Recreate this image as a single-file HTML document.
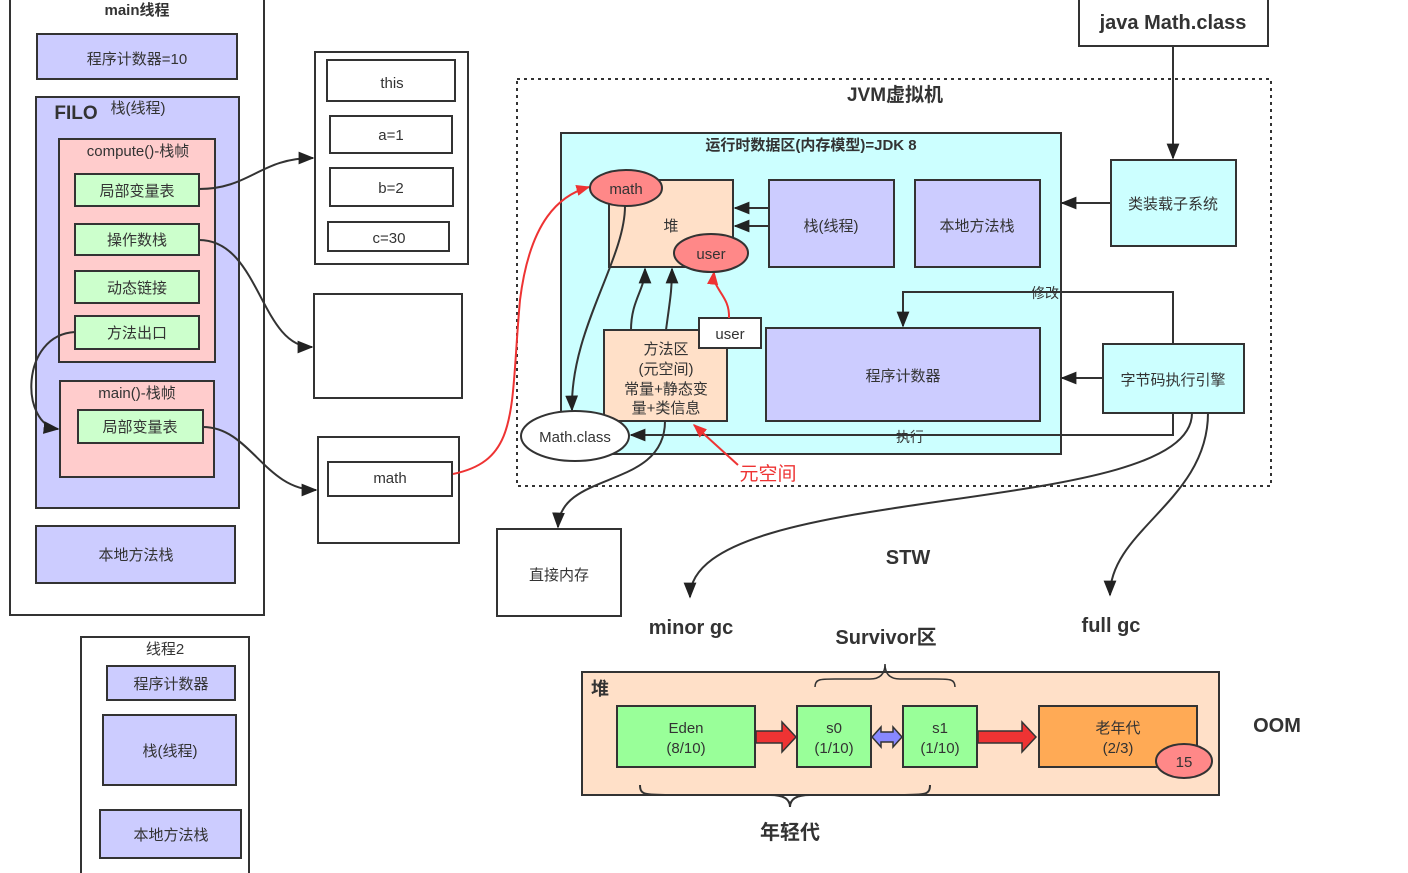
<!DOCTYPE html>
<html><head><meta charset="utf-8"><style>
html,body{margin:0;padding:0;background:#fff;}
svg{display:block;font-family:"Liberation Sans","Noto Sans CJK SC",sans-serif;}
text{fill:#333;}
</style></head><body>
<svg width="1408" height="873" viewBox="0 0 1408 873" xmlns="http://www.w3.org/2000/svg">
<defs>
<marker id="ab" viewBox="0 0 10 10" refX="9" refY="5" markerWidth="16" markerHeight="16" orient="auto" markerUnits="userSpaceOnUse"><path d="M0,1L10,5L0,9z" fill="#222"/></marker>
<marker id="r" viewBox="0 0 10 10" refX="9" refY="5" markerWidth="14" markerHeight="14" orient="auto" markerUnits="userSpaceOnUse"><path d="M0,1L10,5L0,9z" fill="#e33"/></marker>
</defs>
<g stroke="#333" stroke-width="2">
<rect x="10" y="-2" width="254" height="617" fill="#fff"/>
<rect x="37" y="34" width="200" height="45" fill="#ccf"/>
<rect x="36" y="97" width="203" height="411" fill="#ccf"/>
<rect x="59" y="139" width="156" height="223" fill="#fcc"/>
<rect x="75" y="174" width="124" height="32" fill="#cfc"/>
<rect x="75" y="224" width="124" height="31" fill="#cfc"/>
<rect x="75" y="271" width="124" height="32" fill="#cfc"/>
<rect x="75" y="316" width="124" height="33" fill="#cfc"/>
<rect x="60" y="381" width="154" height="96" fill="#fcc"/>
<rect x="78" y="410" width="125" height="33" fill="#cfc"/>
<rect x="36" y="526" width="199" height="57" fill="#ccf"/>
<rect x="315" y="52" width="153" height="212" fill="#fff"/>
<rect x="327" y="60" width="128" height="41" fill="#fff"/>
<rect x="330" y="116" width="122" height="37" fill="#fff"/>
<rect x="330" y="168" width="123" height="38" fill="#fff"/>
<rect x="328" y="222" width="121" height="29" fill="#fff"/>
<rect x="314" y="294" width="148" height="104" fill="#fff"/>
<rect x="318" y="437" width="141" height="106" fill="#fff"/>
<rect x="328" y="462" width="124" height="34" fill="#fff"/>
<path d="M81,875V637H249V875" fill="#fff"/>
<rect x="107" y="666" width="128" height="34" fill="#ccf"/>
<rect x="103" y="715" width="133" height="70" fill="#ccf"/>
<rect x="100" y="810" width="141" height="48" fill="#ccf"/>
<rect x="1079" y="-2" width="189" height="48" fill="#fff"/>
<rect x="517" y="79" width="754" height="407" fill="none" stroke-dasharray="3,4"/>
<rect x="561" y="133" width="500" height="321" fill="#cff"/>
<rect x="609" y="180" width="124" height="87" fill="#ffe0c8"/>
<rect x="769" y="180" width="125" height="87" fill="#ccf"/>
<rect x="915" y="180" width="125" height="87" fill="#ccf"/>
<rect x="1111" y="160" width="125" height="86" fill="#cff"/>
<rect x="604" y="330" width="123" height="91" fill="#ffe0c8"/>
<rect x="766" y="328" width="274" height="93" fill="#ccf"/>
<rect x="1103" y="344" width="141" height="69" fill="#cff"/>
<rect x="699" y="318" width="62" height="30" fill="#fff"/>
<rect x="497" y="529" width="124" height="87" fill="#fff"/>
<rect x="582" y="672" width="637" height="123" fill="#ffe0c8"/>
<rect x="617" y="706" width="138" height="61" fill="#9f9"/>
<rect x="797" y="706" width="74" height="61" fill="#9f9"/>
<rect x="903" y="706" width="74" height="61" fill="#9f9"/>
<rect x="1039" y="706" width="158" height="61" fill="#fa5"/>
</g>
<g fill="none" stroke="#333" stroke-width="2">
<path d="M199,189C250,189 260,158 313,158" marker-end="url(#ab)"/>
<path d="M199,240C260,240 260,347 312,347" marker-end="url(#ab)"/>
<path d="M75,332C20,335 20,425 58,429" marker-end="url(#ab)"/>
<path d="M203,427C250,427 265,490 316,490" marker-end="url(#ab)"/>
<path d="M1173,46V158" marker-end="url(#ab)"/>
<path d="M1111,203H1062" marker-end="url(#ab)"/>
<path d="M1103,378H1062" marker-end="url(#ab)"/>
<path d="M1173,344V292H903V326" marker-end="url(#ab)"/>
<path d="M1173,413V435H631" marker-end="url(#ab)"/>
<path d="M769,208H735" marker-end="url(#ab)"/>
<path d="M769,226H735" marker-end="url(#ab)"/>
<path d="M631,330C631,300 645,290 645,269" marker-end="url(#ab)"/>
<path d="M666,330C670,300 672,290 672,269" marker-end="url(#ab)"/>
<path d="M625,206C625,260 570,330 572,410" marker-end="url(#ab)"/>
<path d="M665,421C665,490 560,470 558,527" marker-end="url(#ab)"/>
<path d="M1192,413C1192,520 690,480 690,597" marker-end="url(#ab)"/>
<path d="M1208,413C1208,500 1110,530 1110,595" marker-end="url(#ab)"/>
<path d="M640,785c0,10 5,10 30,10h100c15,0 20,5 20,12c0,-7 5,-12 20,-12h90c25,0 30,0 30,-10"/>
<path d="M815,687c0,-8 5,-8 20,-8h35c10,0 15,-5 15,-15c0,10 5,15 15,15h35c15,0 20,0 20,8" stroke-width="1.5"/>
</g>
<g fill="none" stroke="#e33" stroke-width="2">
<path d="M453,474C520,460 510,410 520,300C530,220 560,195 589,187" marker-end="url(#r)"/>
<path d="M729,318C730,295 712,290 714,272" marker-end="url(#r)"/>
<path d="M738,465L694,425" marker-end="url(#r)"/>
</g>
<g stroke="#333" stroke-width="2">
<ellipse cx="626" cy="188" rx="36" ry="18" fill="#f88"/>
<ellipse cx="711" cy="253" rx="37" ry="19" fill="#f88"/>
<ellipse cx="575" cy="436" rx="54" ry="25" fill="#fff"/>
<ellipse cx="1184" cy="761" rx="28" ry="17" fill="#f88"/>
</g>
<path d="M756,731h26v-9l14,15l-14,15v-9h-26z" fill="#e33" stroke="#333" stroke-width="1.5"/>
<path d="M978,731h44v-9l14,15l-14,15v-9h-44z" fill="#e33" stroke="#333" stroke-width="1.5"/>
<path d="M872,737l9,-10v5h12v-5l9,10l-9,10v-5h-12v5z" fill="#88f" stroke="#333" stroke-width="1.5"/>
<g font-size="15" text-anchor="middle">
<text x="137" y="15" font-weight="bold">main线程</text>
<text x="137" y="64">程序计数器=10</text>
<text x="76" y="119" font-size="19" font-weight="bold">FILO</text>
<text x="138" y="113">栈(线程)</text>
<text x="138" y="156">compute()-栈帧</text>
<text x="137" y="196">局部变量表</text>
<text x="137" y="245">操作数栈</text>
<text x="137" y="293">动态链接</text>
<text x="137" y="338">方法出口</text>
<text x="137" y="398">main()-栈帧</text>
<text x="140" y="432">局部变量表</text>
<text x="136" y="560">本地方法栈</text>
<text x="392" y="88">this</text>
<text x="391" y="140">a=1</text>
<text x="391" y="193">b=2</text>
<text x="389" y="243">c=30</text>
<text x="390" y="483">math</text>
<text x="165" y="654">线程2</text>
<text x="171" y="689">程序计数器</text>
<text x="170" y="756">栈(线程)</text>
<text x="171" y="840">本地方法栈</text>
<text x="1173" y="29" font-size="20" font-weight="bold">java Math.class</text>
<text x="895" y="101" font-size="19" font-weight="bold">JVM虚拟机</text>
<text x="811" y="150" font-weight="bold">运行时数据区(内存模型)=JDK 8</text>
<text x="626" y="194">math</text>
<text x="671" y="231">堆</text>
<text x="711" y="259">user</text>
<text x="831" y="231">栈(线程)</text>
<text x="977" y="231">本地方法栈</text>
<text x="1173" y="209">类装载子系统</text>
<text x="730" y="339">user</text>
<text x="666" y="354">方法区</text>
<text x="666" y="374">(元空间)</text>
<text x="666" y="394">常量+静态变</text>
<text x="666" y="413">量+类信息</text>
<text x="903" y="381">程序计数器</text>
<text x="1173" y="385">字节码执行引擎</text>
<text x="1045" y="298" font-size="14">修改</text>
<text x="910" y="442" font-size="14">执行</text>
<text x="575" y="442">Math.class</text>
<text x="768" y="480" font-size="19" style="fill:#e33">元空间</text>
<text x="559" y="580">直接内存</text>
<text x="908" y="564" font-size="20" font-weight="bold">STW</text>
<text x="691" y="634" font-size="20" font-weight="bold">minor gc</text>
<text x="1111" y="632" font-size="20" font-weight="bold">full gc</text>
<text x="886" y="644" font-size="20" font-weight="bold">Survivor区</text>
<text x="1277" y="732" font-size="20" font-weight="bold">OOM</text>
<text x="790" y="839" font-size="20" font-weight="bold">年轻代</text>
<text x="600" y="695" font-size="18" font-weight="bold">堆</text>
<text x="686" y="733">Eden</text>
<text x="686" y="753">(8/10)</text>
<text x="834" y="733">s0</text>
<text x="834" y="753">(1/10)</text>
<text x="940" y="733">s1</text>
<text x="940" y="753">(1/10)</text>
<text x="1118" y="733">老年代</text>
<text x="1118" y="753">(2/3)</text>
<text x="1184" y="767">15</text>
</g>
</svg>
</body></html>
